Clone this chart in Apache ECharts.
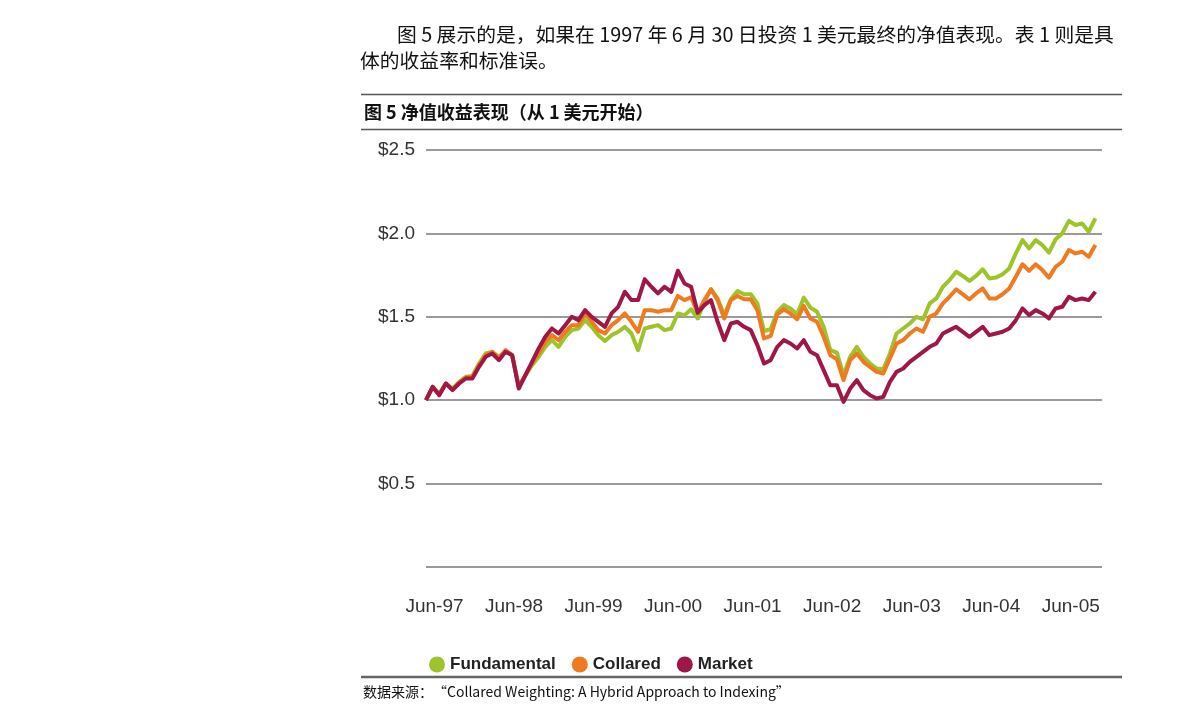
<!DOCTYPE html>
<html>
<head>
<meta charset="utf-8">
<title>图 5 净值收益表现</title>
<script src="https://cdn.jsdelivr.net/npm/echarts@6/dist/echarts.min.js"></script>
<style>
  html, body { margin: 0; padding: 0; background: #fff; }
  #chart { width: 1191px; height: 724px; }
</style>
</head>
<body>
<div id="chart"></div>
<script>
// month-end values, Jun-97 .. Nov-05, $1 invested on 1997-06-30
var fundamental = [
  1.00, 1.08, 1.04, 1.10, 1.07, 1.11, 1.14, 1.145, 1.22, 1.28, 1.29, 1.26,
  1.295, 1.27, 1.085, 1.15, 1.21, 1.26, 1.32, 1.36, 1.32, 1.38, 1.42, 1.43,
  1.48, 1.44, 1.39, 1.355, 1.39, 1.41, 1.44, 1.40, 1.30, 1.43, 1.44, 1.45,
  1.42, 1.43, 1.52, 1.51, 1.545, 1.49, 1.59, 1.665, 1.61, 1.51, 1.605, 1.655,
  1.635, 1.635, 1.58, 1.415, 1.425, 1.53, 1.57, 1.55, 1.515, 1.615, 1.555, 1.53,
  1.44, 1.30, 1.285, 1.15, 1.26, 1.32, 1.26, 1.22, 1.19, 1.185, 1.28, 1.40,
  1.43, 1.46, 1.50, 1.485, 1.58, 1.61, 1.68, 1.72, 1.77, 1.745, 1.715, 1.745,
  1.785, 1.73, 1.735, 1.755, 1.79, 1.88, 1.96, 1.91, 1.96, 1.93, 1.885, 1.965,
  2.00, 2.075, 2.05, 2.06, 2.01, 2.09
]
var collared = [
  1.00, 1.08, 1.035, 1.10, 1.065, 1.105, 1.135, 1.14, 1.21, 1.27, 1.29, 1.25,
  1.30, 1.27, 1.08, 1.15, 1.22, 1.28, 1.35, 1.39, 1.36, 1.41, 1.45, 1.45,
  1.52, 1.47, 1.42, 1.40, 1.45, 1.48, 1.52, 1.47, 1.41, 1.54, 1.54, 1.53,
  1.54, 1.54, 1.625, 1.60, 1.617, 1.525, 1.60, 1.665, 1.60, 1.49, 1.60, 1.625,
  1.605, 1.605, 1.54, 1.37, 1.385, 1.515, 1.545, 1.52, 1.485, 1.565, 1.49, 1.47,
  1.38, 1.27, 1.245, 1.12, 1.24, 1.28, 1.23, 1.20, 1.17, 1.16, 1.25, 1.34,
  1.36, 1.40, 1.43, 1.41, 1.50, 1.52, 1.58, 1.62, 1.665, 1.635, 1.605, 1.64,
  1.67, 1.61, 1.61, 1.635, 1.67, 1.74, 1.815, 1.775, 1.815, 1.78, 1.735, 1.80,
  1.83, 1.90, 1.88, 1.89, 1.86, 1.93
]
var market = [
  1.00, 1.08, 1.03, 1.10, 1.06, 1.10, 1.13, 1.13, 1.20, 1.26, 1.28, 1.24,
  1.29, 1.27, 1.07, 1.15, 1.23, 1.31, 1.38, 1.43, 1.40, 1.45, 1.50, 1.48,
  1.54, 1.50, 1.47, 1.44, 1.52, 1.56, 1.65, 1.60, 1.60, 1.725, 1.68, 1.64,
  1.68, 1.65, 1.776, 1.70, 1.68, 1.525, 1.57, 1.60, 1.47, 1.36, 1.46, 1.47,
  1.44, 1.42, 1.33, 1.22, 1.24, 1.32, 1.36, 1.34, 1.31, 1.36, 1.29, 1.27,
  1.18, 1.09, 1.09, 0.99, 1.07, 1.12, 1.06, 1.03, 1.01, 1.02, 1.11, 1.17,
  1.19, 1.23, 1.26, 1.29, 1.32, 1.34, 1.40, 1.42, 1.44, 1.41, 1.38, 1.41,
  1.44, 1.39, 1.40, 1.41, 1.43, 1.48, 1.55, 1.51, 1.54, 1.52, 1.49, 1.55,
  1.56, 1.62, 1.60, 1.61, 1.60, 1.65
]

var monthNames = ['Jan', 'Feb', 'Mar', 'Apr', 'May', 'Jun', 'Jul', 'Aug', 'Sep', 'Oct', 'Nov', 'Dec']
var yTicks = [0, 0.5, 1.0, 1.5, 2.0, 2.5]

// Jun-97 .. Dec-05, one category per month
var categories = []
for (var y = 1997; y <= 2005; y++) {
  for (var m = (y === 1997 ? 5 : 0); m < 12; m++) {
    categories.push(monthNames[m] + '-' + String(y).slice(2))
  }
}

var sans = '"Liberation Sans", Arial, sans-serif'
var cjk = '"Noto Sans CJK SC", sans-serif'

var chart = echarts.init(document.getElementById('chart'))

chart.setOption({
  animation: false,
  backgroundColor: '#fff',
  color: ['#9dc42a', '#ef7a20', '#9e1747'],
  grid: {
    left: 426,
    top: 150,
    width: 676,
    height: 417
  },
  legend: {
    left: 424,
    top: 651,
    icon: 'circle',
    itemWidth: 16,
    itemHeight: 16,
    itemGap: 16,
    textStyle: {
      fontFamily: sans,
      fontWeight: 'bold',
      fontSize: 17,
      color: '#222'
    },
    data: ['Fundamental', 'Collared', 'Market']
  },
  xAxis: {
    type: 'category',
    boundaryGap: false,
    data: categories,
    axisLine: { show: false },
    axisTick: { show: false },
    splitLine: { show: false },
    axisLabel: {
      interval: function (index) { return index % 12 === 0 },
      margin: 30,
      padding: [0, 0, 0, 17],
      fontFamily: sans,
      fontSize: 19,
      color: '#333'
    }
  },
  yAxis: {
    type: 'value',
    min: yTicks[0],
    max: yTicks[yTicks.length - 1],
    interval: 0.5,
    axisLine: { show: false },
    axisTick: { show: false },
    splitLine: {
      lineStyle: { color: '#9a9a9a', width: 2 }
    },
    axisLabel: {
      margin: 11,
      fontFamily: sans,
      fontSize: 19,
      color: '#333',
      formatter: function (v) {
        return v === 0 ? '' : '$' + v.toFixed(1)
      }
    }
  },
  graphic: [
    {
      type: 'text', x: 397, y: 34,
      style: {
        text: '图 5 展示的是，如果在 1997 年 6 月 30 日投资 1 美元最终的净值表现。表 1 则是具',
        font: '19.8px ' + cjk, fill: '#111', verticalAlign: 'middle'
      }
    },
    {
      type: 'text', x: 360, y: 60,
      style: {
        text: '体的收益率和标准误。',
        font: '19.8px ' + cjk, fill: '#111', verticalAlign: 'middle'
      }
    },
    {
      type: 'line',
      shape: { x1: 361, y1: 94.5, x2: 1122, y2: 94.5 },
      style: { stroke: '#555', lineWidth: 1.5 }
    },
    {
      type: 'text', x: 364, y: 112,
      style: {
        text: '图 5 净值收益表现（从 1 美元开始）',
        font: 'bold 18px ' + cjk, fill: '#111', verticalAlign: 'middle'
      }
    },
    {
      type: 'line',
      shape: { x1: 361, y1: 129.5, x2: 1122, y2: 129.5 },
      style: { stroke: '#555', lineWidth: 1.5 }
    },
    {
      type: 'line',
      shape: { x1: 361, y1: 677, x2: 1122, y2: 677 },
      style: { stroke: '#666', lineWidth: 2.5 }
    },
    {
      type: 'text', x: 363, y: 692,
      style: {
        text: '数据来源：“Collared Weighting: A Hybrid Approach to Indexing”',
        font: '14px ' + cjk, fill: '#111', verticalAlign: 'middle'
      }
    }
  ],
  series: [
    {
      name: 'Fundamental',
      type: 'line',
      data: fundamental,
      showSymbol: false,
      lineStyle: { width: 4, join: 'round' }
    },
    {
      name: 'Collared',
      type: 'line',
      data: collared,
      showSymbol: false,
      lineStyle: { width: 4, join: 'round' }
    },
    {
      name: 'Market',
      type: 'line',
      data: market,
      showSymbol: false,
      lineStyle: { width: 4, join: 'round' }
    }
  ]
})
</script>
</body>
</html>
